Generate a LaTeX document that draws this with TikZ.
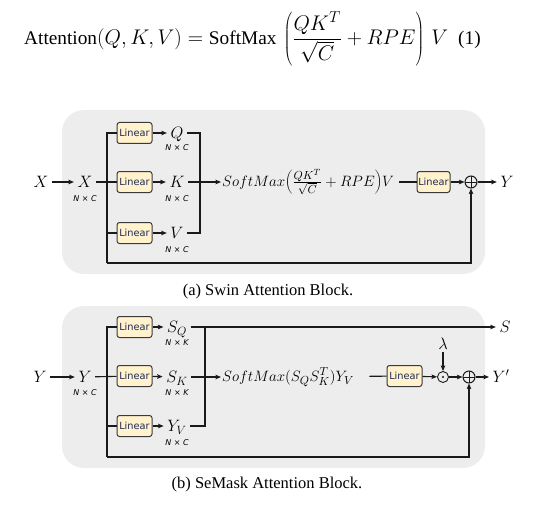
\RequirePackage{fix-cm}
\documentclass[tikz,border=0pt]{standalone}
\usepackage{fontspec}
\setmainfont{Liberation Serif}
\newfontfamily\linfont{DejaVu Sans}
\usetikzlibrary{arrows.meta}
\DeclareMathSizes{19.3}{21.2}{15.8}{11.2}
\DeclareMathSizes{15}{15}{11.7}{9}
\DeclareMathSizes{16.5}{16.5}{12}{9}
\definecolor{panelgray}{HTML}{EDEDED}
\definecolor{linfill}{HTML}{FFF2CC}
\definecolor{linedge}{HTML}{3A3A3A}
\definecolor{lintext}{HTML}{1F2A55}
\definecolor{inkc}{HTML}{1A1A1A}
\begin{document}
\begin{tikzpicture}[x=1pt,y=-1pt,
  conn/.style={draw=inkc, line width=1.1pt},
  arr/.style={conn, -{Stealth[length=5.5pt,width=4.5pt,inset=1pt]}},
  mlab/.style={inner sep=0pt, inner xsep=3.5pt, text height=11.2pt, text depth=0pt, font=\fontsize{16.5}{19}\selectfont},
  dimlab/.style={inner sep=0pt, font=\linfont\itshape\fontsize{8}{9}\selectfont},
  linbox/.style={draw=linedge, fill=linfill, line width=1pt, rounded corners=2.5pt, minimum width=35pt, minimum height=21pt, inner sep=0pt, font=\linfont\fontsize{9.8}{10}\selectfont, text=lintext},
  oplus/.style={circle, draw=inkc, line width=1pt, minimum size=12pt, inner sep=0pt,
    path picture={\draw[inkc, line width=1pt] (path picture bounding box.north) -- (path picture bounding box.south) (path picture bounding box.west) -- (path picture bounding box.east);}},
  odot/.style={circle, draw=inkc, line width=0.9pt, minimum size=11pt, inner sep=0pt,
    path picture={\fill[inkc] (path picture bounding box.center) circle (1.1pt);}},
  panel/.style={fill=panelgray, rounded corners=22pt},
  caption/.style={inner sep=0pt, font=\fontsize{16.5}{19}\selectfont},
  exprlab/.style={anchor=west, inner sep=0pt, inner xsep=1pt, font=\fontsize{15}{18}\selectfont}
]
\useasboundingbox (0,0) rectangle (553,505);

% equation
\node[anchor=west, inner sep=0pt, font=\fontsize{19.3}{23}\selectfont] (eq) at (24,39)
  {$\mbox{Attention}(Q,K,V) = \mbox{SoftMax}\,\left(\displaystyle\frac{QK^T}{\sqrt{C}} + RPE\right)\,V$};
\node[anchor=base west, inner sep=0pt, font=\fontsize{19.3}{23}\selectfont] (eqn) at (458,45) {(1)};

% panels
\fill[panel] (62,110) rectangle (485,274);
\fill[panel] (62,306) rectangle (485,468);

% ---------- panel (a)
\node[mlab] (xa0) at (41,182) {$X$};
\node[mlab] (xa) at (85,182) {$X$};
\node[dimlab] (dxa) at (85,199) {N × C};
\coordinate (spa) at (107,182);
\coordinate (cba) at (107,263);
\node[linbox] (la1) at (134.5,133) {Linear};
\node[linbox] (la2) at (134.5,182) {Linear};
\node[linbox] (la3) at (134.5,233) {Linear};
\node[mlab] (qa) at (177,133) {$Q$};
\node[mlab] (ka) at (177,182) {$K$};
\node[mlab] (va) at (177,233) {$V$};
\node[dimlab] (dqa) at (177,148) {N × C};
\node[dimlab] (dka) at (177,199) {N × C};
\node[dimlab] (dva) at (177,250) {N × C};
\coordinate (ma) at (200,182);
\node[exprlab] (sma) at (221,182)
  {$SoftMax\biggl(\frac{QK^T}{\sqrt{C}}+RPE\biggr)V$};
\node[linbox, minimum width=33pt] (la4) at (433.5,182) {Linear};
\node[oplus] (pa) at (471,182) {};
\node[mlab] (ya) at (507,182) {$Y$};

\draw[arr] (xa0) -- (xa);
\draw[conn] (xa) -- (la2);
\draw[conn] (la1.west) -| (spa) -- (cba);
\draw[conn] (la3.west) -| (spa);
\draw[arr] (cba) -| (pa.south);
\draw[arr] (la1) -- (qa);
\draw[arr] (la2) -- (ka);
\draw[arr] (la3) -- (va);
\draw[conn] (qa.east) -| (ma);
\draw[conn] (va.east) -| (ma);
\draw[arr] (ka) -- (sma);
\draw[conn, shorten <=4pt] (sma) -- (la4);
\draw[arr] (la4) -- (pa);
\draw[arr] (pa) -- (ya);

\node[caption] (capa) at (268,292) {(a) Swin Attention Block.};

% ---------- panel (b)
\node[mlab] (yb0) at (40,377) {$Y$};
\node[mlab] (yb) at (85,377) {$Y$};
\node[dimlab] (dyb) at (85,393) {N × C};
\coordinate (spb) at (107,377);
\coordinate (cbb) at (107,457);
\node[linbox] (lb1) at (134.5,327) {Linear};
\node[linbox] (lb2) at (134.5,376) {Linear};
\node[linbox] (lb3) at (134.5,426) {Linear};
\node[mlab] (sq) at (177,327) {$S_Q$};
\node[mlab] (sk) at (177,377) {$S_K$};
\node[mlab] (yv) at (177,426) {$Y_V$};
\node[dimlab] (dsq) at (177,343) {N × K};
\node[dimlab] (dsk) at (177,393) {N × K};
\node[dimlab] (dyv) at (177,443) {N × C};
\coordinate (mb) at (205,377);
\node[mlab] (sb) at (505,327) {$S$};
\node[exprlab] (smb) at (221,377)
  {$SoftMax\bigl(S_QS_K^T\bigr)Y_V$};
\node[linbox] (lb4) at (404.5,376) {Linear};
\node[odot] (od) at (443,377) {};
\node[inner sep=0pt, font=\fontsize{16.5}{19}\selectfont] (lam) at (443,344) {$\lambda$};
\node[oplus] (pb) at (469,377) {};
\node[mlab, anchor=west] (yp) at (489,377) {$Y'$};

\draw[arr] (yb0) -- (yb);
\draw[conn] (yb) -- (lb2);
\draw[conn] (lb1.west) -| (spb) -- (cbb);
\draw[conn] (lb3.west) -| (spb);
\draw[arr] (cbb) -| (pb.south);
\draw[arr] (lb1) -- (sq);
\draw[arr] (lb2) -- (sk);
\draw[arr] (lb3) -- (yv);
\draw[arr] (sq) -- (sb);
\draw[conn] (yv.east) -| (mb |- sq);
\draw[arr] (sk) -- (smb);
\draw[conn, shorten <=14pt] (smb) -- (lb4);
\draw[arr] (lb4) -- (od);
\draw[arr, shorten <=2pt] (lam) -- (od);
\draw[arr] (od) -- (pb);
\draw[arr] (pb) -- (yp);

\node[caption] (capb) at (267,485) {(b) SeMask Attention Block.};
\end{tikzpicture}
\end{document}
